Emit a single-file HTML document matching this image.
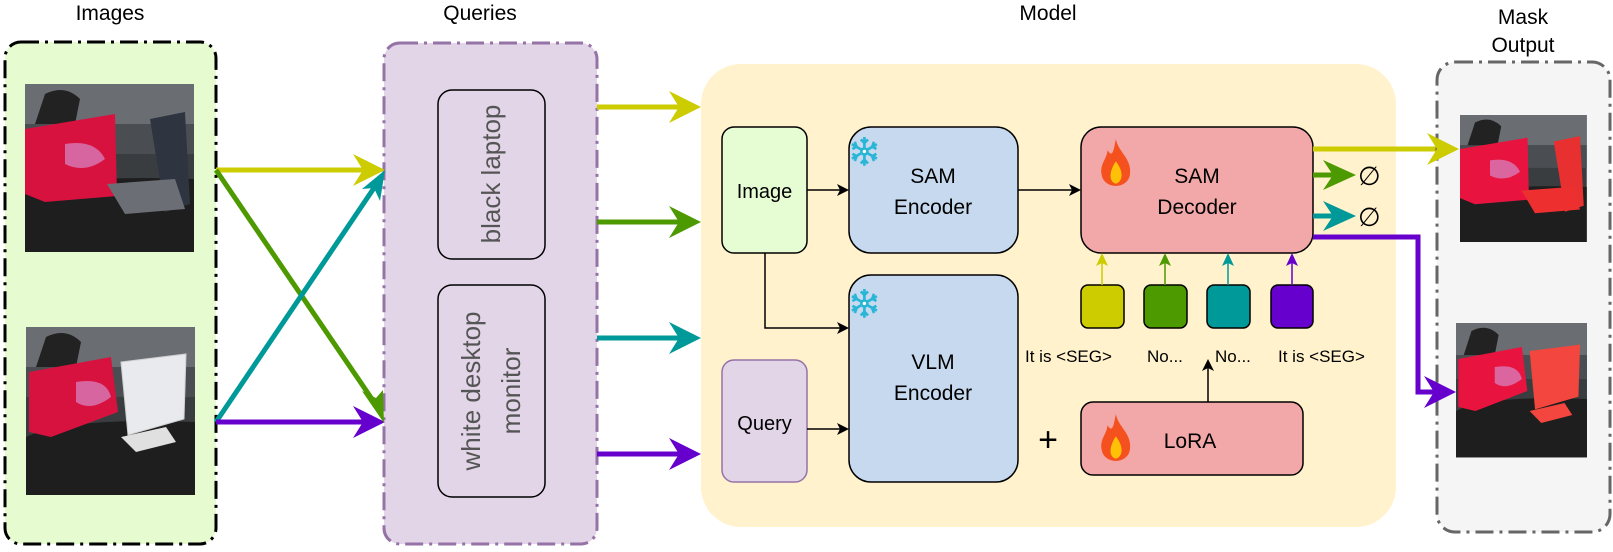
<!DOCTYPE html>
<html><head><meta charset="utf-8"><style>
html,body{margin:0;padding:0;background:#fff;}
svg{display:block;font-family:"Liberation Sans",sans-serif;}
</style></head><body>
<svg width="1613" height="552" viewBox="0 0 1613 552" xmlns="http://www.w3.org/2000/svg">
<defs>
<g id="laptopimg">
<rect width="169" height="168" fill="#3a3d40"/>
<rect y="0" width="169" height="40" fill="#6a6e72"/>
<rect y="40" width="169" height="30" fill="#4a4e52"/>
<path d="M0,110 Q40,90 169,95 L169,168 L0,168z" fill="#1e1e1e"/>
<path d="M20,10 Q40,0 55,15 L50,40 L10,40z" fill="#222"/>
</g>
<g id="flame"><path d="M12,0 C14,10 24,14 22,26 C20,36 4,36 2,26 C0,18 6,14 6,8 C9,12 10,12 12,0z" fill="#f4511e"/><path d="M12,16 C17,22 18,30 12,32 C6,30 8,22 12,16z" fill="#ffc107"/></g>
<g id="snow" stroke="#29b6d6" stroke-width="2.2" fill="none"><path d="M12,0 V24 M1.6,6 L22.4,18 M1.6,18 L22.4,6"/><path d="M9,2 L12,5 L15,2 M9,22 L12,19 L15,22 M2,10 L5.5,8 L4,4 M20,20 L18.5,16 L22,14 M2,14 L5.5,16 L4,20 M20,4 L18.5,8 L22,10"/><circle cx="12" cy="12" r="2.5" fill="#fff"/></g>
</defs>

<text x="110" y="20" font-size="21" text-anchor="middle" fill="#000">Images</text>
<text x="480" y="20" font-size="21" text-anchor="middle" fill="#000">Queries</text>
<text x="1048" y="20" font-size="21" text-anchor="middle" fill="#000">Model</text>
<text x="1523" y="24" font-size="21" text-anchor="middle" fill="#000">Mask</text>
<text x="1523" y="52" font-size="21" text-anchor="middle" fill="#000">Output</text>

<rect x="5" y="42" width="211" height="502" rx="16" fill="#e6fbd0" stroke="#000" stroke-width="3" stroke-dasharray="18,6,3,6"/>
<g transform="translate(25,84)"><use href="#laptopimg"/>
<path d="M0,45 L90,30 L92,112 L20,118 L0,110z" fill="#d8123f"/><path d="M40,60 Q70,55 80,75 Q60,90 40,80z" fill="#d77ab8" opacity="0.8"/>
<path d="M125,35 L160,28 L165,120 L140,128z" fill="#2e3440"/><path d="M82,100 L150,95 L160,125 L100,130z" fill="#6b6f75"/></g>
<g transform="translate(26,327)"><use href="#laptopimg"/>
<path d="M3,45 L85,30 L92,85 L25,110 L3,105z" fill="#d8123f"/><path d="M50,55 Q80,50 85,70 Q65,85 50,75z" fill="#d77ab8" opacity="0.8"/>
<path d="M95,35 L160,27 L158,92 L102,108z" fill="#e8eaee" stroke="#cfcfcf"/><path d="M95,110 L140,100 L150,115 L110,125z" fill="#e0e0e0"/></g>

<rect x="384" y="43" width="213" height="501" rx="16" fill="#e1d5e7" stroke="#9673a6" stroke-width="3" stroke-dasharray="18,6,3,6"/>
<rect x="438" y="90" width="107" height="169" rx="14" fill="none" stroke="#000" stroke-width="1.5"/>
<text transform="translate(500,174) rotate(-90)" font-size="26" fill="#555" text-anchor="middle">black laptop</text>
<rect x="438" y="285" width="107" height="212" rx="14" fill="none" stroke="#000" stroke-width="1.5"/>
<text transform="translate(480,391) rotate(-90)" font-size="26" fill="#555" text-anchor="middle">white desktop</text>
<text transform="translate(520,391) rotate(-90)" font-size="26" fill="#555" text-anchor="middle">monitor</text>

<g stroke-width="5" fill="none">
<line x1="216" y1="170" x2="368" y2="170" stroke="#cccc00"/>
<line x1="216" y1="170" x2="376" y2="405" stroke="#4d9900"/>
<line x1="216" y1="422" x2="376" y2="185" stroke="#009999"/>
<line x1="216" y1="422" x2="368" y2="422" stroke="#6600cc"/>
</g>
<path d="M385,170 L353,154 L363,170 L353,186z" fill="#cccc00"/>
<path d="M385,422 L353,406 L363,422 L353,438z" fill="#6600cc"/>
<path d="M384,423 L383,390 L376,398 L362,391z" fill="#4d9900"/>
<path d="M385,170 L362,189 L374,188 L380,201z" fill="#009999"/>

<rect x="701" y="64" width="695" height="463" rx="40" fill="#fff2cc"/>

<g stroke-width="5">
<line x1="597" y1="107" x2="690" y2="107" stroke="#cccc00"/>
<line x1="597" y1="222" x2="690" y2="222" stroke="#4d9900"/>
<line x1="597" y1="338" x2="690" y2="338" stroke="#009999"/>
<line x1="597" y1="454" x2="690" y2="454" stroke="#6600cc"/>
</g>
<path d="M701,107 L669,91 L679,107 L669,123z" fill="#cccc00"/>
<path d="M701,222 L669,206 L679,222 L669,238z" fill="#4d9900"/>
<path d="M701,338 L669,322 L679,338 L669,354z" fill="#009999"/>
<path d="M701,454 L669,438 L679,454 L669,470z" fill="#6600cc"/>

<rect x="722" y="127" width="85" height="126" rx="12" fill="#e6fcd3" stroke="#000" stroke-width="1.5"/>
<text x="764.5" y="198" font-size="20" text-anchor="middle">Image</text>
<rect x="722" y="360" width="85" height="122" rx="12" fill="#e1d5e7" stroke="#9673a6" stroke-width="1.5"/>
<text x="764.5" y="430" font-size="20" text-anchor="middle">Query</text>

<rect x="849" y="127" width="169" height="126" rx="22" fill="#c6d9ee" stroke="#000" stroke-width="1.5"/>
<text x="933" y="183" font-size="21" text-anchor="middle">SAM</text>
<text x="933" y="214" font-size="21" text-anchor="middle">Encoder</text>
<use href="#snow" transform="translate(850,137) scale(1.2)"/>
<rect x="849" y="275" width="169" height="207" rx="22" fill="#c6d9ee" stroke="#000" stroke-width="1.5"/>
<text x="933" y="369" font-size="21" text-anchor="middle">VLM</text>
<text x="933" y="400" font-size="21" text-anchor="middle">Encoder</text>
<use href="#snow" transform="translate(850,289) scale(1.2)"/>

<rect x="1081" y="127" width="232" height="126" rx="20" fill="#f2a8a8" stroke="#000" stroke-width="1.5"/>
<text x="1197" y="183" font-size="21" text-anchor="middle">SAM</text>
<text x="1197" y="214" font-size="21" text-anchor="middle">Decoder</text>
<use href="#flame" transform="translate(1099,139) scale(1.4)"/>

<rect x="1081" y="402" width="222" height="73" rx="12" fill="#f2a8a8" stroke="#000" stroke-width="1.5"/>
<text x="1190" y="448" font-size="21" text-anchor="middle">LoRA</text>
<use href="#flame" transform="translate(1099,414) scale(1.4)"/>
<text x="1048" y="451" font-size="34" text-anchor="middle">+</text>

<g stroke="#000" stroke-width="1.5" fill="none">
<line x1="807" y1="190" x2="840" y2="190"/>
<polyline points="765,253 765,328 840,328"/>
<line x1="807" y1="429" x2="840" y2="429"/>
<line x1="1018" y1="190" x2="1072" y2="190"/>
<line x1="1208" y1="402" x2="1208" y2="368"/>
</g>
<path d="M849,190 L837,184 L840,190 L837,196z"/>
<path d="M849,328 L837,322 L840,328 L837,334z"/>
<path d="M849,429 L837,423 L840,429 L837,435z"/>
<path d="M1081,190 L1069,184 L1072,190 L1069,196z"/>
<path d="M1208,359 L1202,371 L1208,368 L1214,371z"/>

<rect x="1081" y="285" width="43" height="43" rx="7" fill="#cccc00" stroke="#000" stroke-width="1.5"/>
<rect x="1144" y="285" width="43" height="43" rx="7" fill="#4d9900" stroke="#000" stroke-width="1.5"/>
<rect x="1207" y="285" width="43" height="43" rx="7" fill="#009999" stroke="#000" stroke-width="1.5"/>
<rect x="1271" y="285" width="42" height="43" rx="7" fill="#6600cc" stroke="#000" stroke-width="1.5"/>
<g stroke-width="1.5">
<line x1="1102" y1="285" x2="1102" y2="262" stroke="#cccc00"/>
<line x1="1165" y1="285" x2="1165" y2="262" stroke="#4d9900"/>
<line x1="1228" y1="285" x2="1228" y2="262" stroke="#009999"/>
<line x1="1292" y1="285" x2="1292" y2="262" stroke="#6600cc"/>
</g>
<path d="M1102,253 L1096,266 L1102,263 L1108,266z" fill="#cccc00"/>
<path d="M1165,253 L1159,266 L1165,263 L1171,266z" fill="#4d9900"/>
<path d="M1228,253 L1222,266 L1228,263 L1234,266z" fill="#009999"/>
<path d="M1292,253 L1286,266 L1292,263 L1298,266z" fill="#6600cc"/>
<g font-size="17">
<text x="1025" y="362">It is &lt;SEG&gt;</text>
<text x="1147" y="362">No...</text>
<text x="1215" y="362">No...</text>
<text x="1278" y="362">It is &lt;SEG&gt;</text>
</g>

<line x1="1313" y1="149" x2="1440" y2="149" stroke="#cccc00" stroke-width="5"/>
<line x1="1313" y1="175" x2="1345" y2="175" stroke="#4d9900" stroke-width="5"/>
<path d="M1356,175 L1323,160 L1333,175 L1323,190z" fill="#4d9900"/>
<line x1="1313" y1="216" x2="1345" y2="216" stroke="#009999" stroke-width="5"/>
<path d="M1356,216 L1323,201 L1333,216 L1323,231z" fill="#009999"/>
<g font-size="26" fill="#000"><text x="1358" y="185">∅</text><text x="1358" y="226">∅</text></g>
<polyline points="1313,237 1418,237 1418,392 1440,392" fill="none" stroke="#6600cc" stroke-width="5"/>

<rect x="1437" y="62" width="173" height="470" rx="18" fill="#f5f5f5" stroke="#666" stroke-width="3" stroke-dasharray="18,6,3,6"/>
<g transform="translate(1460,115) scale(0.75,0.756)"><use href="#laptopimg"/>
<path d="M0,45 L90,30 L92,112 L20,118 L0,110z" fill="#e8143f"/><path d="M40,60 Q70,55 80,75 Q60,90 40,80z" fill="#d77ab8" opacity="0.8"/>
<path d="M125,35 L160,28 L165,120 L140,128z" fill="#e83030"/><path d="M82,100 L150,95 L160,125 L100,130z" fill="#ee2f2f"/></g>
<g transform="translate(1456,323) scale(0.775,0.8)"><use href="#laptopimg"/>
<path d="M3,45 L85,30 L92,85 L25,110 L3,105z" fill="#e8143f"/><path d="M50,55 Q80,50 85,70 Q65,85 50,75z" fill="#d77ab8" opacity="0.8"/>
<path d="M95,35 L160,27 L158,92 L102,108z" fill="#f2463e"/><path d="M95,110 L140,100 L150,115 L110,125z" fill="#f2463e"/></g>
<path d="M1459,149 L1427,133 L1437,149 L1427,165z" fill="#cccc00"/>
<path d="M1456,392 L1424,376 L1434,392 L1424,408z" fill="#6600cc"/>
</svg>
</body></html>
